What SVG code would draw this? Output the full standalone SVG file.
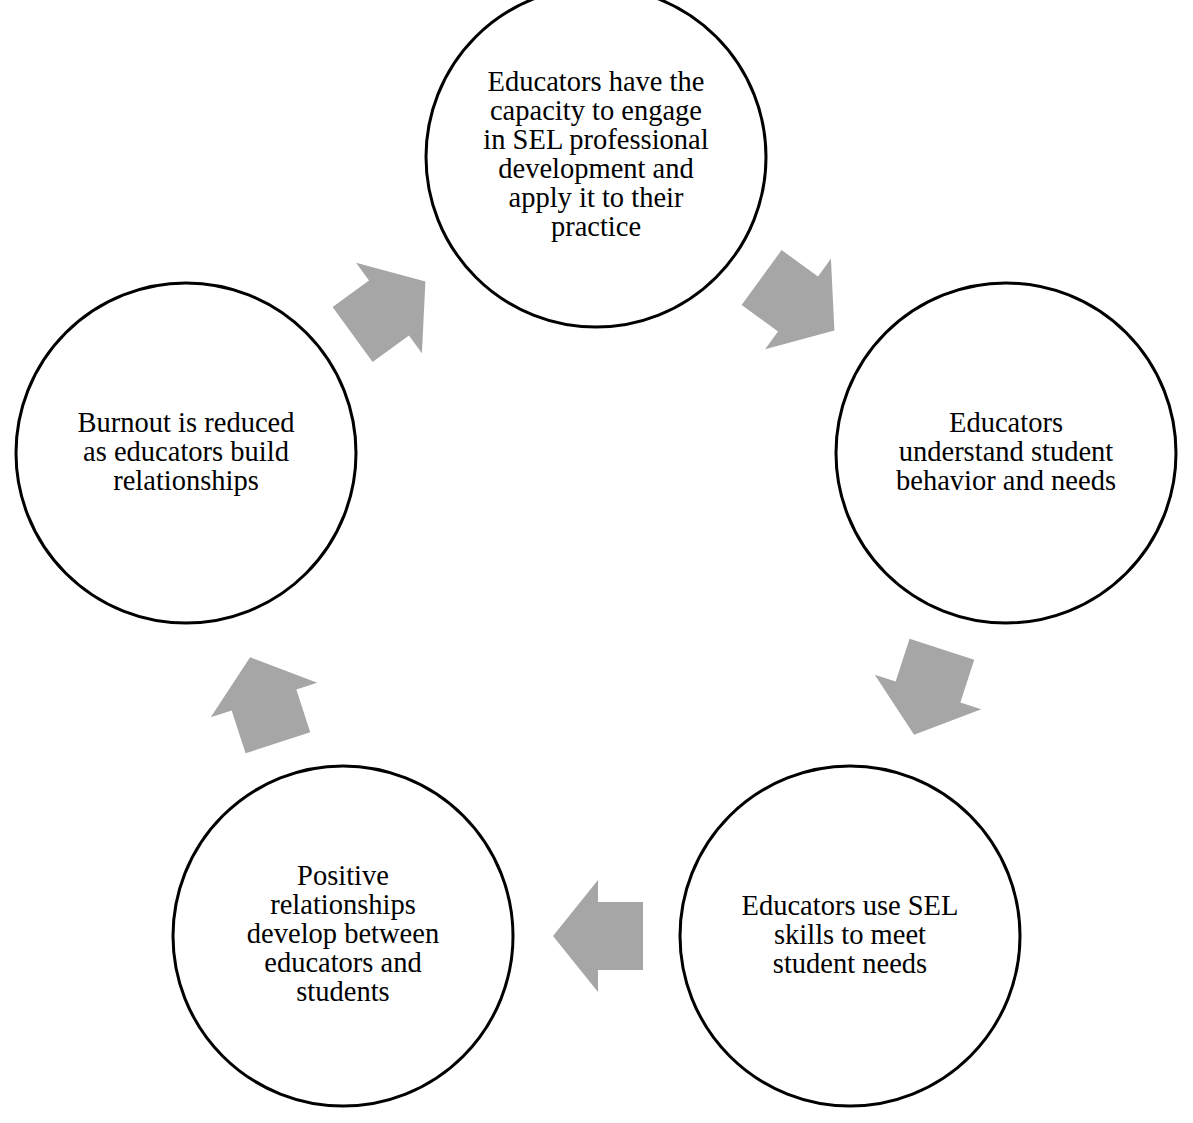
<svg xmlns="http://www.w3.org/2000/svg" width="1193" height="1123" viewBox="0 0 1193 1123">
<style>
.c{fill:#fff;stroke:#000;stroke-width:3}
.t{font-family:"Liberation Serif",serif;font-size:28.5px;text-anchor:middle;fill:#000}
.a{fill:#a6a6a6}
</style>
<defs><polygon id="arr" points="-45,-34 0,-34 0,-56 45,0 0,56 0,34 -45,34"/></defs>
<rect width="1193" height="1123" fill="#fff"/>
<g id="n1"><circle class="c" cx="596" cy="157" r="170"/><text class="t"><tspan x="596" y="91">Educators have the</tspan><tspan x="596" y="120">capacity to engage</tspan><tspan x="596" y="149">in SEL professional</tspan><tspan x="596" y="178">development and</tspan><tspan x="596" y="207">apply it to their</tspan><tspan x="596" y="236">practice</tspan></text></g>
<g id="n2"><circle class="c" cx="1006" cy="453" r="170"/><text class="t"><tspan x="1006" y="432">Educators</tspan><tspan x="1006" y="461">understand student</tspan><tspan x="1006" y="490">behavior and needs</tspan></text></g>
<g id="n3"><circle class="c" cx="850" cy="936" r="170"/><text class="t"><tspan x="850" y="915">Educators use SEL</tspan><tspan x="850" y="944">skills to meet</tspan><tspan x="850" y="973">student needs</tspan></text></g>
<g id="n4"><circle class="c" cx="343" cy="936" r="170"/><text class="t"><tspan x="343" y="885">Positive</tspan><tspan x="343" y="914">relationships</tspan><tspan x="343" y="943">develop between</tspan><tspan x="343" y="972">educators and</tspan><tspan x="343" y="1001">students</tspan></text></g>
<g id="n5"><circle class="c" cx="186" cy="453" r="170"/><text class="t"><tspan x="186" y="432">Burnout is reduced</tspan><tspan x="186" y="461">as educators build</tspan><tspan x="186" y="490">relationships</tspan></text></g>
<g id="connectors">
<use href="#arr" class="a" transform="translate(798,304) rotate(36)"/>
<use href="#arr" class="a" transform="translate(928,692) rotate(108)"/>
<use href="#arr" class="a" transform="translate(598,936) rotate(180)"/>
<use href="#arr" class="a" transform="translate(264,700) rotate(252)"/>
<use href="#arr" class="a" transform="translate(389,308) rotate(-36)"/>
</g>
</svg>
